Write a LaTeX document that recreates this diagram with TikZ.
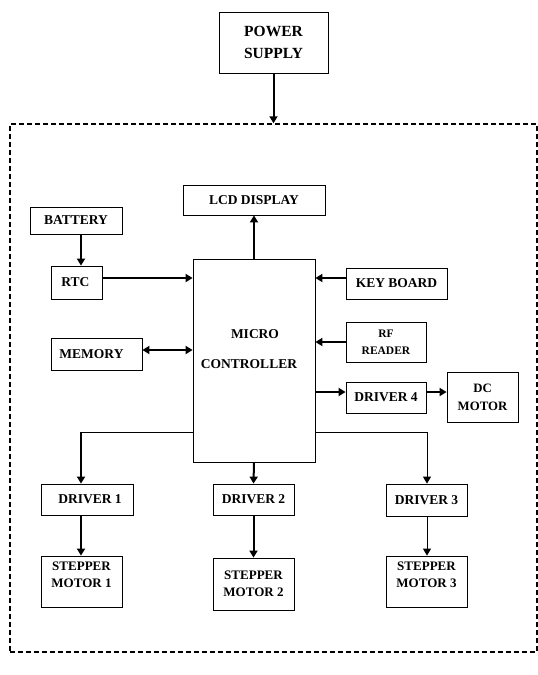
\documentclass[tikz,border=0pt]{standalone}
\usepackage{fontspec}
\setmainfont{Liberation Serif}
\usetikzlibrary{arrows.meta}
\begin{document}
\begin{tikzpicture}[x=1pt,y=-1pt,
  box/.style={draw, line width=0.8pt, inner sep=0pt, align=center, font=\fontsize{13.5}{17.5}\selectfont\bfseries},
  lbl/.style={inner sep=0pt, font=\fontsize{13.5}{17.5}\selectfont\bfseries},
  arr/.style={line width=2pt, -{Triangle[width=8pt,length=7pt]}},
  tarr/.style={line width=0.9pt, -{Triangle[width=8pt,length=7pt]}},
  darr/.style={line width=2pt, {Triangle[width=8pt,length=7pt]}-{Triangle[width=8pt,length=7pt]}},
  tline/.style={line width=0.9pt},
  sysbox/.style={draw, dash pattern=on 5pt off 3pt, line width=1.5pt, inner sep=0pt}
]
\fill[white] (0,0) rectangle (538,675);
\useasboundingbox (0,0) rectangle (538,675);

% boxes
\node[box, minimum width=109pt, minimum height=61pt, font=\fontsize{15.5}{22}\selectfont\bfseries] (ps) at (273.5,42.5) {POWER\\SUPPLY};
\node[sysbox, minimum width=527pt, minimum height=528pt] (sys) at (273.5,388) {};
\node[box, minimum width=142pt, minimum height=30pt] (lcd) at (254,200) {LCD DISPLAY};
\node[box, minimum width=92pt, minimum height=27pt] (bat) at (76,220.5) {BATTERY};
\node[box, minimum width=51pt, minimum height=33pt] (rtc) at (76.5,282.5) {RTC\,};
\node[box, minimum width=122pt, minimum height=203pt] (mc) at (254,360.5) {};
\node[lbl, anchor=base] (mct1) at (255,338) {MICRO};
\node[lbl, anchor=base] (mct2) at (249,368) {CONTROLLER};
\node[box, minimum width=91pt, minimum height=32pt] (mem) at (96.5,354) {MEMORY\hspace{10pt}};
\node[box, minimum width=101pt, minimum height=31pt] (kb) at (396.5,283.5) {KEY BOARD};
\node[box, minimum width=80pt, minimum height=40pt, font=\fontsize{11.5}{17}\selectfont\bfseries] (rf) at (386,342) {RF\\READER};
\node[box, minimum width=80pt, minimum height=31pt] (d4) at (386,397.5) {DRIVER 4};
\node[box, minimum width=71pt, minimum height=50pt, font=\fontsize{12.8}{18}\selectfont\bfseries] (dc) at (482.5,397) {DC\\MOTOR};
\node[box, minimum width=92pt, minimum height=31pt] (d1) at (87,499.5) {\hspace{6pt}DRIVER 1};
\node[box, minimum width=81pt, minimum height=31pt] (d2) at (253.5,499.5) {DRIVER 2};
\node[box, minimum width=81pt, minimum height=32pt] (d3) at (426.5,500) {DRIVER 3};
\node[box, minimum width=81pt, minimum height=51pt, font=\fontsize{13}{17}\selectfont\bfseries] (sm1) at (81.5,581.5) {STEPPER\\MOTOR 1\\[-4pt]};
\node[box, minimum width=81pt, minimum height=52pt, font=\fontsize{13}{17}\selectfont\bfseries] (sm2) at (253.5,584) {STEPPER\\MOTOR 2};
\node[box, minimum width=81pt, minimum height=51pt, font=\fontsize{13}{17}\selectfont\bfseries] (sm3) at (426.5,581.5) {STEPPER\\MOTOR 3\\[-4pt]};

% branch points
\coordinate (bl) at (81,432);
\coordinate (br) at (427,432);

% connectors
\draw[arr] (ps.south) -- (ps.south |- sys.north);
\draw[arr] ([xshift=5pt]bat.south) -- ([xshift=5pt]bat.south |- rtc.north);
\draw[arr] ([yshift=4.5pt]rtc.east) -- ([yshift=4.5pt]rtc.east -| mc.west);
\draw[arr] (mc.north) -- (lcd.south);
\draw[darr] ([yshift=4pt]mem.east) -- ([yshift=4pt]mem.east -| mc.west);
\draw[arr] ([yshift=5.5pt]kb.west) -- ([yshift=5.5pt]kb.west -| mc.east);
\draw[arr] (rf.west) -- (rf.west -| mc.east);
\draw[arr] ([yshift=5.5pt]d4.west -| mc.east) -- ([yshift=5.5pt]d4.west);
\draw[arr] ([yshift=5.5pt]d4.east) -- ([yshift=5.5pt]d4.east -| dc.west);
\draw[tline] (mc.west |- bl) -- (bl);
\draw[arr] (bl) -- (bl |- d1.north);
\draw[arr] (mc.south) -- (d2.north);
\draw[tline] (mc.east |- br) -- (br);
\draw[tarr] (br) -- (br |- d3.north);
\draw[arr] (bl |- d1.south) -- (bl |- sm1.north);
\draw[arr] (d2.south) -- (d2.south |- sm2.north);
\draw[tarr] (br |- d3.south) -- (br |- sm3.north);
\end{tikzpicture}
\end{document}
